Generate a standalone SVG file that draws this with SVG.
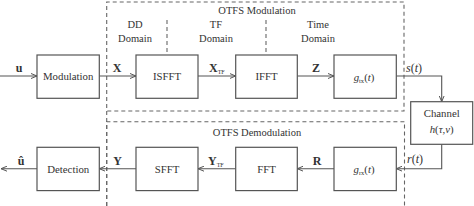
<svg xmlns="http://www.w3.org/2000/svg" width="474" height="206" viewBox="0 0 474 206" font-family="'Liberation Serif', 'Times New Roman', serif">
<defs>
<style>
.box{fill:#fff;stroke:#555;stroke-width:1.2}
.ln{fill:none;stroke:#555;stroke-width:1.1}
.dash{fill:none;stroke:#666;stroke-width:1.1;stroke-dasharray:4,3}
text{font-family:"Liberation Serif","Times New Roman",serif;fill:#333}
.lbl{font-size:10.8px;text-anchor:middle}
.sm{font-size:10.5px;text-anchor:middle}
.b{font-weight:bold;font-size:12px}
.sub{font-size:6px}
.it{font-style:italic}
</style>
<marker id="ah" markerWidth="7" markerHeight="6" refX="6" refY="3" orient="auto" markerUnits="userSpaceOnUse">
<path d="M0,0.5 L6,3 L0,5.5" fill="none" stroke="#555" stroke-width="1"/>
</marker>
</defs>
<rect width="474" height="206" fill="#fff"/>
<g id="frames">
<path class="dash" d="M106.7,206 V2 H404 V111 H106.7"/>
<path class="dash" d="M106.7,206 V121.7 H404.5 V206"/>
<path class="dash" d="M167,20 V55"/>
<path class="dash" d="M266,20 V55"/>
<text class="sm" x="257" y="14">OTFS Modulation</text>
<text class="sm" x="257" y="136">OTFS Demodulation</text>
<text class="sm" x="135" y="28">DD</text>
<text class="sm" x="135" y="42">Domain</text>
<text class="sm" x="216" y="28">TF</text>
<text class="sm" x="216" y="42">Domain</text>
<text class="sm" x="318" y="28">Time</text>
<text class="sm" x="318" y="42">Domain</text>
</g>
<g id="connectors">
<line class="ln" x1="0" y1="76" x2="37" y2="76" marker-end="url(#ah)"/>
<line class="ln" x1="99.3" y1="76" x2="136" y2="76" marker-end="url(#ah)"/>
<line class="ln" x1="198" y1="76" x2="235.7" y2="76" marker-end="url(#ah)"/>
<line class="ln" x1="297.3" y1="76" x2="334" y2="76" marker-end="url(#ah)"/>
<path class="ln" d="M396.3,76 H441.7 V101.7" marker-end="url(#ah)"/>
<path class="ln" d="M441.7,144.3 V168.7 H396.3" marker-end="url(#ah)"/>
<line class="ln" x1="334" y1="168.7" x2="297.3" y2="168.7" marker-end="url(#ah)"/>
<line class="ln" x1="235.7" y1="168.7" x2="198" y2="168.7" marker-end="url(#ah)"/>
<line class="ln" x1="136" y1="168.7" x2="99.3" y2="168.7" marker-end="url(#ah)"/>
<line class="ln" x1="37" y1="168.7" x2="1" y2="168.7" marker-end="url(#ah)"/>
<text class="b" x="19" y="72" text-anchor="middle">u</text>
<text class="b" x="117" y="72" text-anchor="middle">X</text>
<text class="b" x="209" y="72">X<tspan class="sub" font-weight="normal" dy="2">TF</tspan></text>
<text class="b" x="316" y="72" text-anchor="middle">Z</text>
<text x="406" y="72" font-size="12"><tspan class="it">s</tspan>(<tspan class="it">t</tspan>)</text>
<text class="b" x="21" y="165" text-anchor="middle">û</text>
<text class="b" x="117.5" y="165" text-anchor="middle">Y</text>
<text class="b" x="208" y="165">Y<tspan class="sub" font-weight="normal" dy="2">TF</tspan></text>
<text class="b" x="317" y="165" text-anchor="middle">R</text>
<text x="407" y="163" font-size="12"><tspan class="it">r</tspan>(<tspan class="it">t</tspan>)</text>
</g>
<g id="modulation"><rect class="box" x="37" y="55" width="62.3" height="43.3"/><text class="lbl" x="68.2" y="80">Modulation</text></g>
<g id="isfft"><rect class="box" x="136" y="55" width="62" height="43.3"/><text class="lbl" x="167" y="80">ISFFT</text></g>
<g id="ifft"><rect class="box" x="235.7" y="55" width="61.6" height="43.3"/><text class="lbl" x="266.5" y="80">IFFT</text></g>
<g id="gtx"><rect class="box" x="334" y="55" width="62.3" height="43.3"/><text class="lbl" x="364" y="80.5" font-size="13.5"><tspan class="it">g</tspan><tspan font-size="6.5" dy="2">tx</tspan><tspan dy="-2">(</tspan><tspan class="it">t</tspan>)</text></g>
<g id="channel"><rect class="box" x="410.7" y="101.7" width="62" height="42.6"/><text class="lbl" x="441.7" y="117">Channel</text><text class="lbl" x="441.7" y="133" font-size="12.5"><tspan class="it">h</tspan>(<tspan class="it">τ</tspan>,<tspan class="it">ν</tspan>)</text></g>
<g id="detection"><rect class="box" x="37" y="147.3" width="62.3" height="43.3"/><text class="lbl" x="68.2" y="172.5">Detection</text></g>
<g id="sfft"><rect class="box" x="136" y="147.3" width="62" height="43.3"/><text class="lbl" x="167" y="172.5">SFFT</text></g>
<g id="fft"><rect class="box" x="235.7" y="147.3" width="61.6" height="43.3"/><text class="lbl" x="266.5" y="172.5">FFT</text></g>
<g id="grx"><rect class="box" x="334" y="147.3" width="62.3" height="43.3"/><text class="lbl" x="364" y="173" font-size="13.5"><tspan class="it">g</tspan><tspan font-size="6.5" dy="2">rx</tspan><tspan dy="-2">(</tspan><tspan class="it">t</tspan>)</text></g>
</svg>
